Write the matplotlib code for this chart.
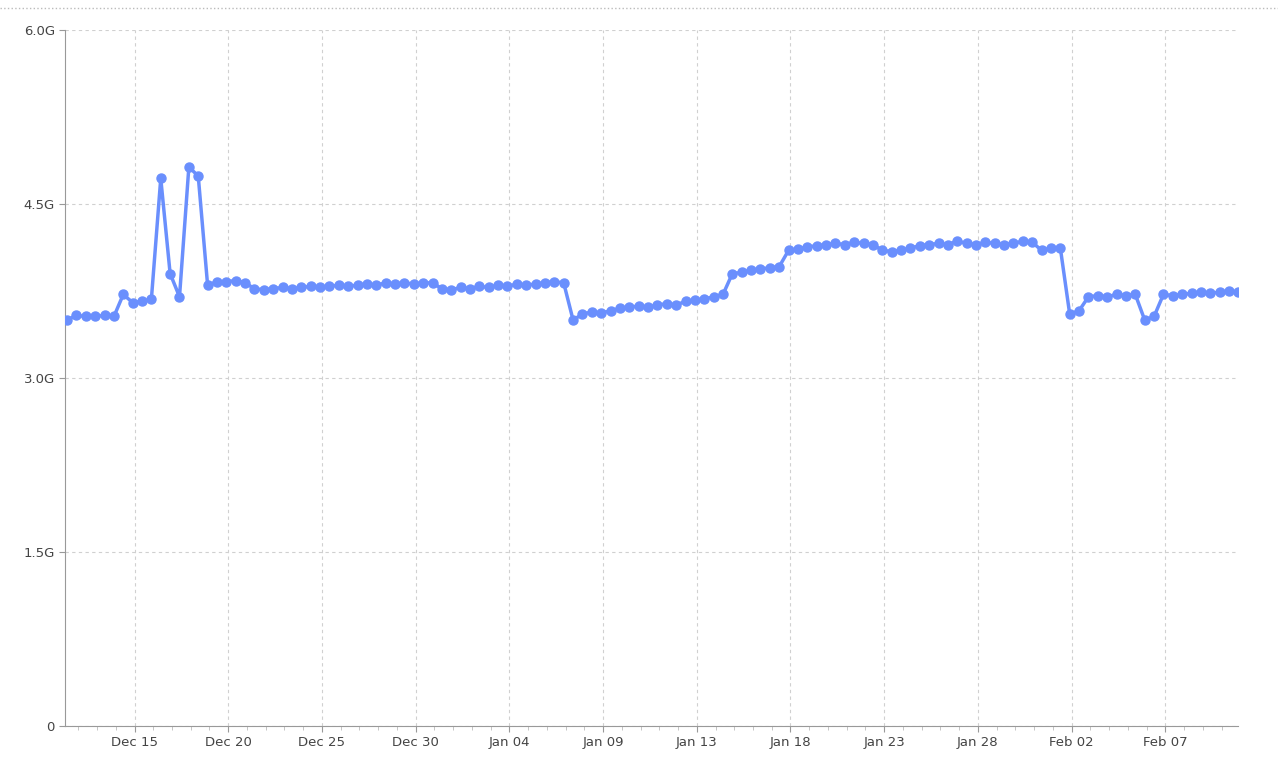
import numpy as np
import matplotlib.pyplot as plt

# memory usage, sampled every half day (day 0 = Dec 1)
start_day = 10.4
usage_g = [
    3.50, 3.54, 3.53, 3.53, 3.54, 3.53, 3.72, 3.65, 3.66, 3.68,
    4.72, 3.90, 3.70, 4.82, 4.74, 3.80, 3.83, 3.83, 3.84, 3.82,
    3.77, 3.76, 3.77, 3.78, 3.77, 3.78, 3.79, 3.78, 3.79, 3.80,
    3.79, 3.80, 3.81, 3.80, 3.82, 3.81, 3.82, 3.81, 3.82, 3.82,
    3.77, 3.76, 3.78, 3.77, 3.79, 3.78, 3.80, 3.79, 3.81, 3.80,
    3.81, 3.82, 3.83, 3.82, 3.50, 3.55, 3.57, 3.56, 3.58, 3.60,
    3.61, 3.62, 3.61, 3.63, 3.64, 3.63, 3.66, 3.67, 3.68, 3.70,
    3.72, 3.90, 3.91, 3.93, 3.94, 3.95, 3.96, 4.10, 4.11, 4.13,
    4.14, 4.15, 4.16, 4.15, 4.17, 4.16, 4.15, 4.10, 4.09, 4.10,
    4.12, 4.14, 4.15, 4.16, 4.15, 4.18, 4.16, 4.15, 4.17, 4.16,
    4.15, 4.16, 4.18, 4.17, 4.10, 4.12, 4.12, 3.55, 3.58, 3.70,
    3.71, 3.70, 3.72, 3.71, 3.72, 3.50, 3.53, 3.72, 3.71, 3.72,
    3.73, 3.74, 3.73, 3.74, 3.75, 3.74, 3.77, 3.76, 3.78,
]
tick_days = [14, 19, 24, 29, 34, 39, 44, 49, 54, 59, 64, 69]
tick_labels = ["Dec 15", "Dec 20", "Dec 25", "Dec 30", "Jan 04", "Jan 09",
               "Jan 13", "Jan 18", "Jan 23", "Jan 28", "Feb 02", "Feb 07"]
y_ticks = [0, 1.5, 3.0, 4.5, 6.0]
y_labels = ["0", "1.5G", "3.0G", "4.5G", "6.0G"]

days = start_day + 0.5 * np.arange(len(usage_g))

fig = plt.figure(figsize=(12.78, 7.69), dpi=100)
ax = fig.add_axes([0.051, 0.056, 0.918, 0.905])
ax.plot(days, usage_g, color="#6a8ffd", lw=2.5, marker="o", ms=6.5, zorder=3)

ax.set_xlim(10.3, 72.9)
ax.set_ylim(0, 6.0)
ax.set_xticks(tick_days)
ax.set_xticklabels(tick_labels)
ax.set_xticks(np.arange(11, 73), minor=True)
ax.set_yticks(y_ticks)
ax.set_yticklabels(y_labels)
ax.grid(True, which="major", ls=(0, (3, 3)), color="#d0d0d0", lw=0.8)
ax.tick_params(labelsize=9.5, colors="#444444", length=4, color="#999999")
ax.tick_params(which="minor", length=3, color="#bbbbbb")
for s in ["top", "right"]:
    ax.spines[s].set_visible(False)
for s in ["left", "bottom"]:
    ax.spines[s].set_color("#999999")

# dotted header line at the very top
fig.add_artist(plt.Line2D([0, 1], [0.989, 0.989], ls=":", color="#bbbbbb", lw=1))

fig.savefig("out.png", dpi=100)
